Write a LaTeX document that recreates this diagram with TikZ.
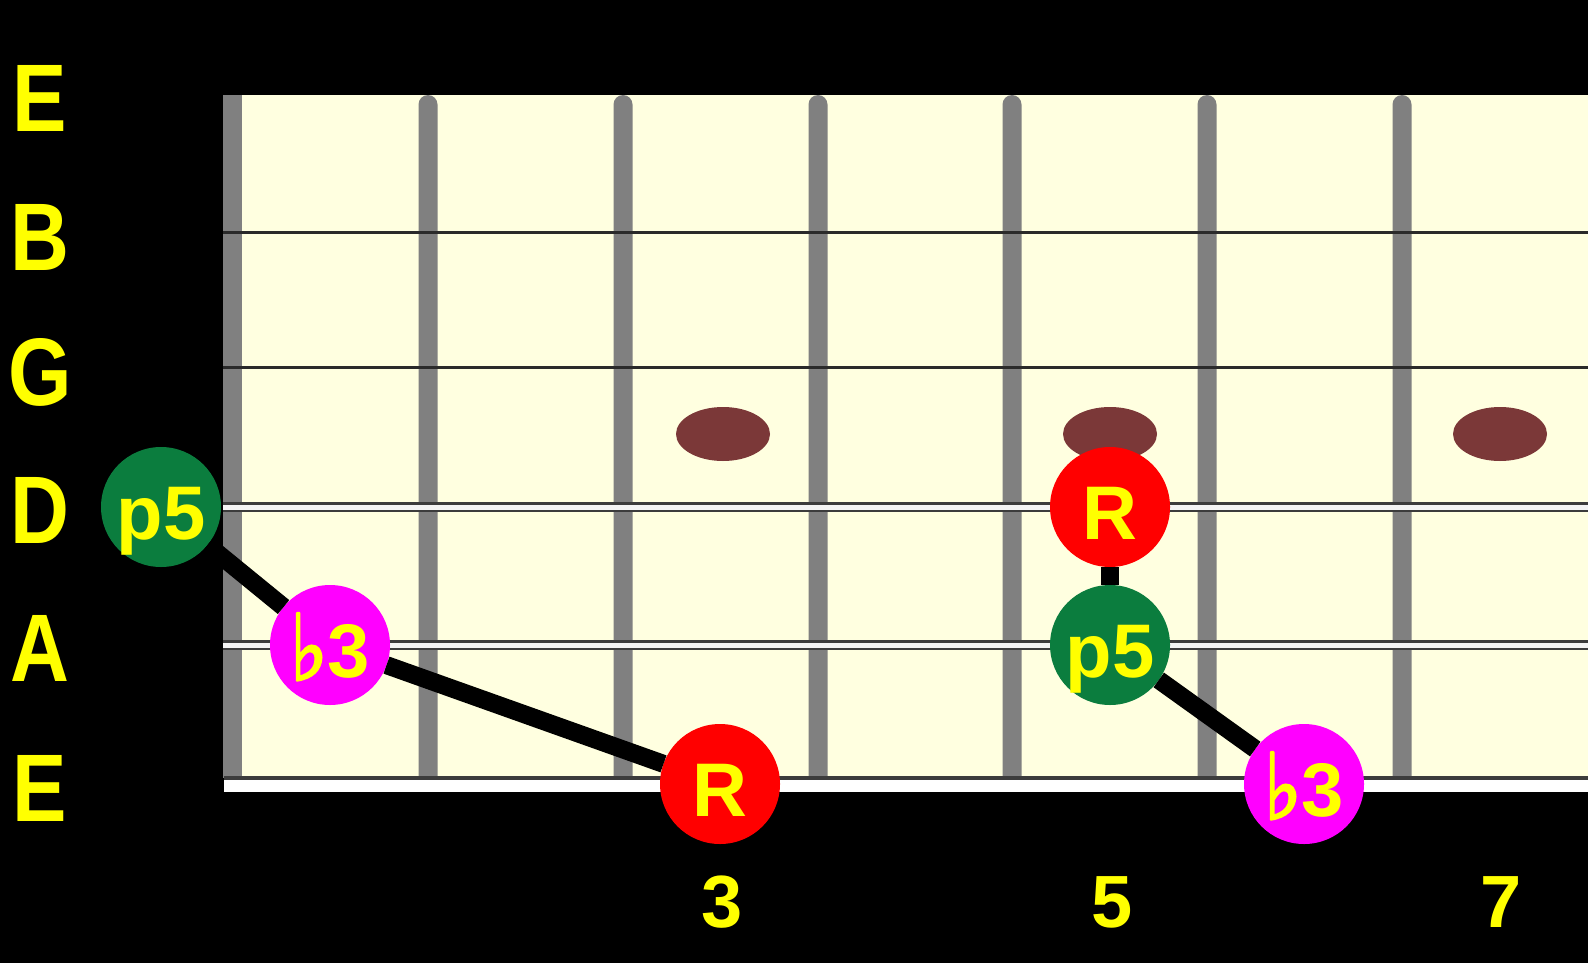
\documentclass[tikz,border=0pt]{standalone}
\usepackage{fontspec}
\usepackage{graphicx}
\setmainfont{Liberation Sans}
\newfontfamily\symfont[FakeBold=3]{DejaVu Sans}
\newcommand{\flatsign}{\raisebox{-1.5pt}{\scalebox{1.05}[1.2]{\symfont\mdseries\char"266D}}}
\definecolor{board}{HTML}{FFFFE0}
\definecolor{fretc}{HTML}{808080}
\definecolor{dotc}{HTML}{7B3838}
\definecolor{gr}{HTML}{0B7D3E}
\definecolor{mag}{HTML}{FF00FF}
\definecolor{rd}{HTML}{FF0000}
\definecolor{txt}{HTML}{FFFF00}
\definecolor{strc}{HTML}{2A2A2A}
\definecolor{dkstr}{HTML}{3C3C3C}
\definecolor{ltstr}{HTML}{F4F4F4}
\begin{document}
\begin{tikzpicture}[x=0.5pt,y=-0.5pt,
  note/.style={circle, minimum size=60pt, inner sep=0pt, outer sep=0pt, text=txt,
    font=\fontsize{38}{38}\selectfont\bfseries, text height=32pt, text depth=0pt},
  root/.style={note, fill=rd},
  fifth/.style={note, fill=gr},
  third/.style={note, fill=mag},
  conn/.style={line width=9pt, black},
  lbl/.style={text=txt, font=\fontsize{48}{48}\selectfont\bfseries, inner sep=0pt, anchor=base},
  fnum/.style={text=txt, font=\fontsize{37}{37}\selectfont\bfseries, inner sep=0pt, anchor=base}]
\useasboundingbox (0,0) rectangle (1588,963);
\fill[black] (0,0) rectangle (1588,963);
% fretboard
\fill[board] (223,95) rectangle (1588,778);
\begin{scope}
  \clip (223,95) rectangle (1588,778);
  \fill[fretc] (223,95) rectangle (242,778);
  \foreach \x in {428,623,818,1012,1207,1402}
    \fill[fretc, rounded corners=4.75pt] (\x-9.5,95) rectangle (\x+9.5,830);
\end{scope}
% position markers
\fill[dotc] (723,434) ellipse [x radius=47, y radius=27];
\fill[dotc] (1110,434) ellipse [x radius=47, y radius=27];
\fill[dotc] (1500,434) ellipse [x radius=47, y radius=27];
% strings
\draw[line width=1.5pt, strc] (223,232) -- (1588,232);
\draw[line width=1.5pt, strc] (223,367) -- (1588,367);
\draw[line width=5pt, dkstr] (223,507) -- (1588,507);
\draw[line width=2.5pt, ltstr] (223,507) -- (1588,507);
\draw[line width=5pt, dkstr] (223,645) -- (1588,645);
\draw[line width=2.5pt, ltstr] (223,645) -- (1588,645);
\fill[dkstr] (224,776) rectangle (1588,780);
\fill[white] (224,780) rectangle (1588,792);
% string names
\node[lbl] (sE1) at (40,131) {\scalebox{0.85}[1]{E}};
\node[lbl] (sB) at (40,270) {\scalebox{0.85}[1]{B}};
\node[lbl] (sG) at (40,405) {\scalebox{0.85}[1]{G}};
\node[lbl] (sD) at (40,543) {\scalebox{0.85}[1]{D}};
\node[lbl] (sA) at (40,681) {\scalebox{0.85}[1]{A}};
\node[lbl] (sE6) at (40,821) {\scalebox{0.85}[1]{E}};
% fret numbers
\node[fnum] (n3) at (722,927) {3};
\node[fnum] (n5) at (1112,927) {5};
\node[fnum] (n7) at (1501,927) {7};
% notes
\node[fifth] (p5a) at (161,507) {p5};
\node[third] (b3a) at (330,645) {\flatsign3};
\node[root] (ra) at (720,784) {R};
\node[root] (rb) at (1110,507) {R};
\node[fifth] (p5b) at (1110,645) {p5};
\node[third] (b3b) at (1304,784) {\flatsign3};
% connectors
\draw[conn] (p5a) -- (b3a);
\draw[conn] (b3a) -- (ra);
\draw[conn] (rb) -- (p5b);
\draw[conn] (p5b) -- (b3b);
\end{tikzpicture}
\end{document}
